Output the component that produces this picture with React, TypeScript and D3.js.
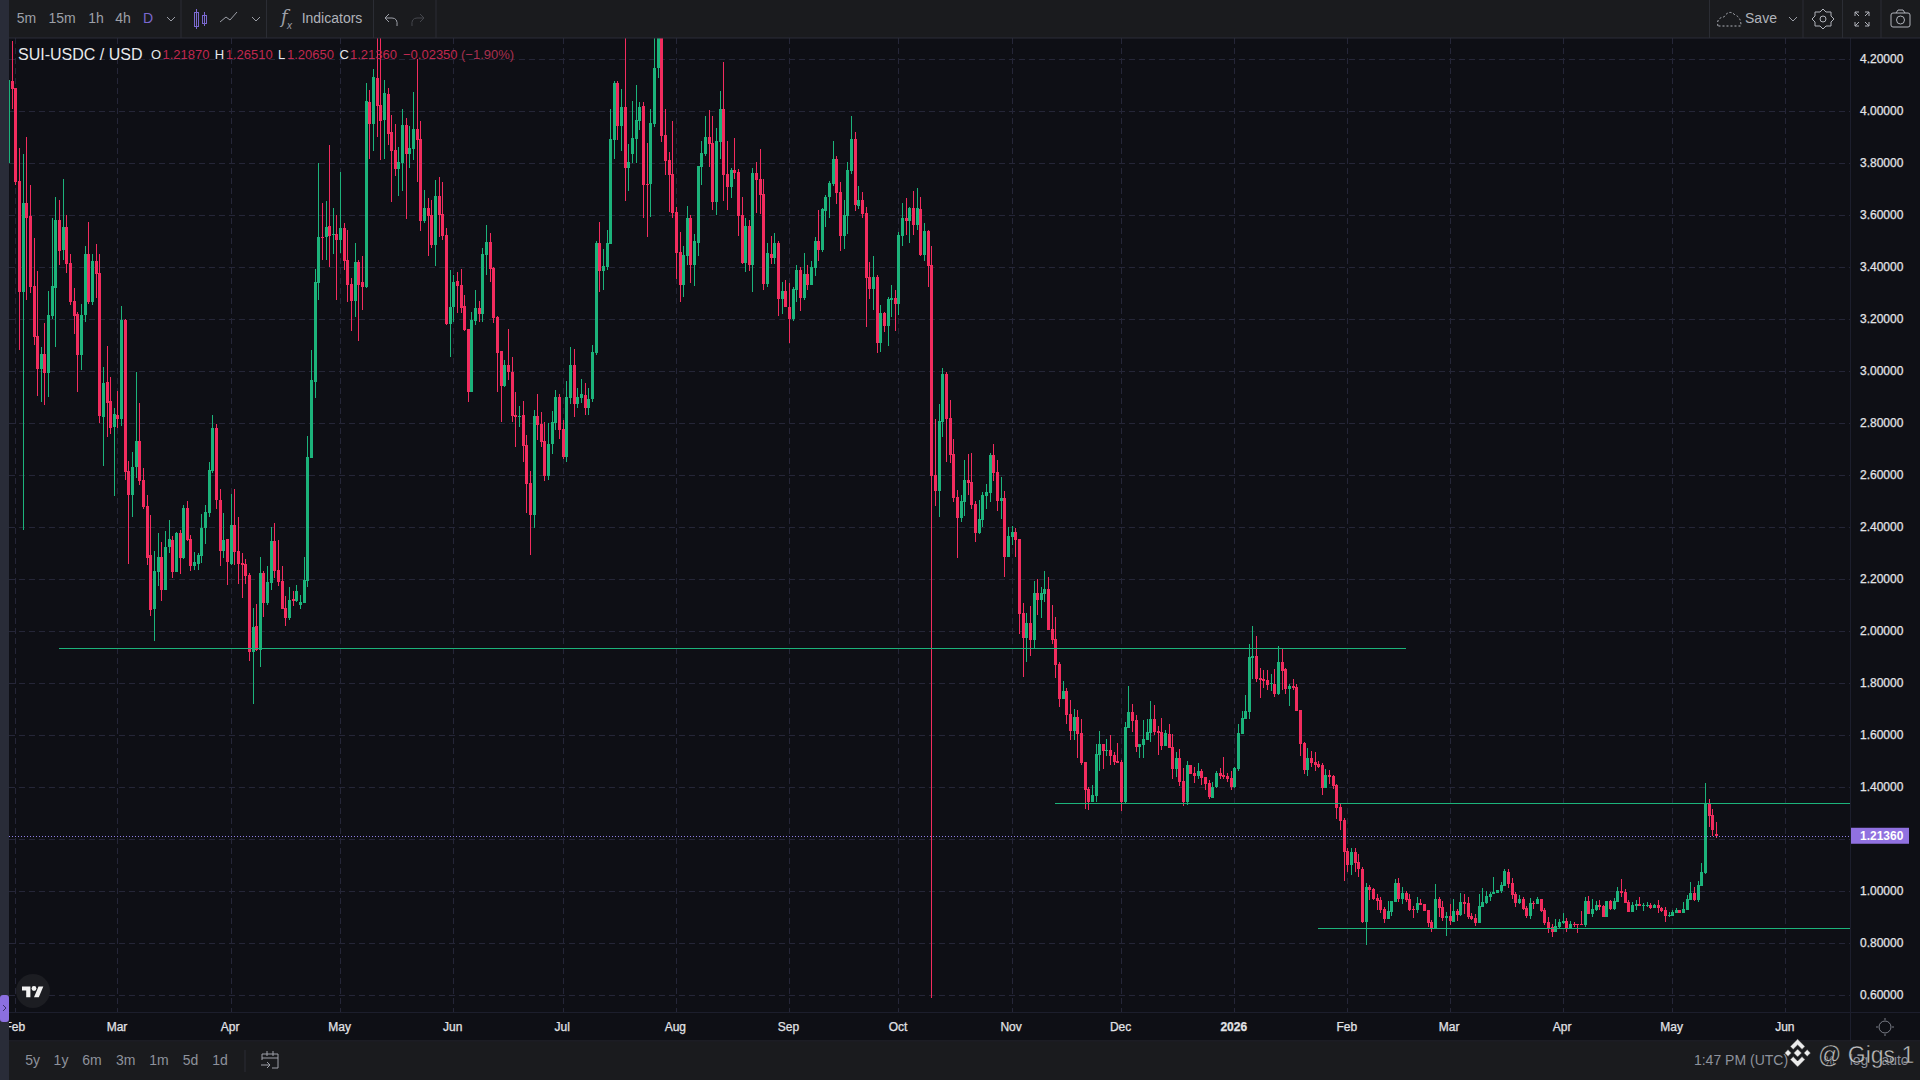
import { useEffect, useRef } from 'react'
import * as d3 from 'd3'

type Candle = [number, number, number, number] // open, high, low, close

// Daily SUI-USDC candles, one list per month
const jan25: Candle[] = [[3.8,4.13,3.7,4.12],[4.116,4.27,4.01,4.086]]
const feb25: Candle[] = [[4.088,4.088,3.716,3.729],[3.732,3.857,3.082,3.306],[3.306,3.836,2.39,3.646],[3.646,3.9,3.274,3.591],[3.597,3.716,3.3,3.325],[3.328,3.511,3.1,3.133],[3.136,3.386,2.905,3.009],[3.009,3.095,2.882,3.066],[3.066,3.184,2.87,2.995],[2.995,3.31,2.9,3.216],[3.212,3.588,3.203,3.328],[3.322,3.669,3.095,3.582],[3.582,3.659,3.409,3.464],[3.467,3.739,3.428,3.555],[3.555,3.601,3.377,3.412],[3.415,3.453,3.255,3.268],[3.27,3.319,3.143,3.212],[3.22,3.229,2.92,3.062],[3.062,3.257,3.005,3.216],[3.216,3.482,3.19,3.451],[3.451,3.573,3.26,3.268],[3.268,3.453,3.255,3.424],[3.424,3.489,3.283,3.374],[3.377,3.451,2.8,2.829],[2.825,3.018,2.637,2.954],[2.958,3.097,2.749,2.879],[2.886,2.98,2.759,2.783],[2.787,2.859,2.522,2.834]]
const mar25: Candle[] = [[2.832,2.924,2.781,2.817],[2.817,3.251,2.791,3.197],[3.197,3.203,2.582,2.614],[2.617,2.655,2.26,2.524],[2.524,2.688,2.441,2.632],[2.632,2.997,2.591,2.732],[2.732,2.878,2.563,2.579],[2.582,2.628,2.47,2.478],[2.482,2.524,2.255,2.282],[2.293,2.447,2.059,2.082],[2.086,2.309,1.963,2.232],[2.228,2.378,2.174,2.286],[2.286,2.343,2.117,2.159],[2.159,2.386,2.159,2.324],[2.324,2.428,2.301,2.355],[2.351,2.366,2.205,2.228],[2.228,2.382,2.228,2.378],[2.378,2.39,2.22,2.282],[2.282,2.486,2.278,2.474],[2.474,2.501,2.347,2.351],[2.355,2.37,2.232,2.251],[2.251,2.305,2.236,2.267],[2.259,2.301,2.236,2.293],[2.289,2.451,2.263,2.397],[2.397,2.486,2.336,2.459],[2.455,2.651,2.44,2.62],[2.617,2.832,2.609,2.782],[2.782,2.797,2.47,2.505],[2.505,2.547,2.251,2.309],[2.309,2.455,2.282,2.351],[2.355,2.355,2.178,2.267]]
const apr25: Candle[] = [[2.259,2.528,2.255,2.409],[2.409,2.547,2.255,2.305],[2.309,2.44,2.182,2.259],[2.263,2.301,2.128,2.255],[2.259,2.278,2.182,2.213],[2.217,2.224,1.886,1.92],[1.92,2.09,1.72,2.017],[2.02,2.105,1.924,1.928],[1.928,2.286,1.863,2.224],[2.224,2.232,2.055,2.109],[2.109,2.251,2.101,2.19],[2.186,2.401,2.159,2.347],[2.347,2.417,2.205,2.232],[2.236,2.351,2.174,2.19],[2.193,2.251,2.086,2.086],[2.09,2.136,2.02,2.051],[2.051,2.17,2.043,2.12],[2.124,2.155,2.097,2.117],[2.117,2.178,2.113,2.155],[2.101,2.14,2.086,2.113],[2.109,2.286,2.109,2.197],[2.193,2.751,2.17,2.67],[2.667,3.082,2.667,2.967],[2.96,3.392,2.897,3.342],[3.339,3.803,3.274,3.516],[3.516,3.646,3.43,3.513],[3.516,3.655,3.428,3.555],[3.559,3.869,3.4,3.52],[3.524,3.63,3.451,3.528],[3.528,3.601,3.274,3.505]]
const may25: Candle[] = [[3.505,3.766,3.456,3.551],[3.551,3.569,3.39,3.424],[3.428,3.543,3.267,3.332],[3.336,3.357,3.155,3.27],[3.27,3.492,3.21,3.42],[3.42,3.428,3.118,3.332],[3.343,3.443,3.235,3.324],[3.324,4.107,3.319,4.039],[4.035,4.082,3.816,3.951],[3.951,4.162,3.847,4.132],[4.128,4.32,3.902,4.02],[4.024,4.32,3.812,3.962],[3.966,4.12,3.816,4.07],[4.066,4.088,3.87,3.912],[3.92,3.986,3.651,3.847],[3.851,3.953,3.751,3.778],[3.778,3.864,3.674,3.805],[3.801,4.009,3.693,3.947],[3.947,3.973,3.586,3.836],[3.836,3.943,3.782,3.859],[3.855,4.074,3.812,3.932],[3.932,4.203,3.729,3.889],[3.893,3.962,3.539,3.578],[3.578,3.697,3.569,3.628],[3.628,3.666,3.443,3.597],[3.601,3.659,3.473,3.486],[3.486,3.735,3.405,3.674],[3.674,3.747,3.518,3.601],[3.605,3.728,3.505,3.52],[3.524,3.552,3.178,3.182],[3.182,3.39,3.056,3.247]]
const jun25: Candle[] = [[3.247,3.37,3.19,3.343],[3.347,3.383,3.223,3.328],[3.332,3.392,3.223,3.243],[3.25,3.293,3.155,3.159],[3.163,3.163,2.883,2.92],[2.92,3.229,2.92,3.197],[3.193,3.312,3.18,3.243],[3.243,3.27,3.19,3.22],[3.22,3.475,3.19,3.451],[3.447,3.562,3.37,3.497],[3.497,3.533,3.344,3.393],[3.397,3.4,3.184,3.205],[3.209,3.212,2.92,3.07],[3.078,3.08,2.806,2.945],[2.945,3.043,2.94,3.024],[3.024,3.161,2.966,2.996],[2.996,3.056,2.804,2.828],[2.832,2.922,2.71,2.824],[2.824,2.867,2.787,2.83],[2.832,2.886,2.652,2.713],[2.717,2.755,2.456,2.567],[2.57,2.617,2.293,2.447],[2.447,2.851,2.399,2.828],[2.828,2.913,2.736,2.793],[2.797,2.842,2.71,2.728],[2.732,2.805,2.578,2.597],[2.597,2.8,2.582,2.72],[2.72,2.848,2.682,2.805],[2.801,2.93,2.774,2.901],[2.901,2.913,2.74,2.774]]
const jul25: Candle[] = [[2.778,2.813,2.663,2.67],[2.67,2.963,2.652,2.901],[2.897,3.092,2.874,3.024],[3.024,3.086,2.824,2.874],[2.874,2.936,2.859,2.901],[2.897,2.97,2.877,2.913],[2.909,2.955,2.832,2.859],[2.859,2.936,2.832,2.893],[2.893,3.1,2.883,3.074],[3.071,3.501,3.062,3.492],[3.492,3.575,3.306,3.387],[3.387,3.47,3.312,3.405],[3.401,3.543,3.39,3.492],[3.488,4.007,3.488,3.893],[3.889,4.116,3.816,4.109],[4.109,4.115,3.889,3.943],[3.943,4.084,3.847,4.016],[4.016,4.3,3.655,3.782],[3.782,3.874,3.693,3.805],[3.835,4.039,3.803,3.897],[3.893,4.101,3.803,3.966],[3.962,4.037,3.928,4.016],[4.02,4.037,3.591,3.716],[3.72,3.877,3.518,3.716],[3.72,4.007,3.594,3.955],[3.951,4.3,3.938,4.166],[4.166,4.33,4.128,4.33],[4.33,4.35,3.883,3.905],[3.909,4.007,3.755,3.809],[3.813,3.845,3.614,3.755],[3.759,3.962,3.591,3.609]]
const aug25: Candle[] = [[3.613,3.633,3.355,3.455],[3.459,3.537,3.268,3.332],[3.332,3.482,3.284,3.447],[3.443,3.636,3.409,3.59],[3.59,3.601,3.341,3.409],[3.409,3.528,3.328,3.501],[3.493,3.79,3.443,3.789],[3.785,3.886,3.716,3.839],[3.835,3.982,3.828,3.901],[3.901,4.005,3.787,3.874],[3.878,3.982,3.62,3.651],[3.651,3.936,3.601,3.886],[3.882,4.078,3.816,4.009],[4.009,4.189,3.655,3.755],[3.759,3.886,3.62,3.709],[3.709,3.782,3.666,3.774],[3.774,3.897,3.739,3.762],[3.766,3.777,3.52,3.597],[3.601,3.67,3.412,3.416],[3.416,3.589,3.382,3.559],[3.559,3.582,3.386,3.409],[3.409,3.782,3.305,3.762],[3.762,3.805,3.609,3.735],[3.739,3.855,3.605,3.678],[3.682,3.739,3.312,3.336],[3.336,3.493,3.324,3.455],[3.451,3.52,3.412,3.435],[3.435,3.532,3.412,3.493],[3.493,3.501,3.212,3.278],[3.278,3.343,3.22,3.309],[3.309,3.351,3.247,3.247]]
const sep25: Candle[] = [[3.247,3.339,3.109,3.201],[3.201,3.324,3.193,3.316],[3.312,3.409,3.266,3.389],[3.389,3.401,3.232,3.282],[3.282,3.455,3.274,3.374],[3.374,3.409,3.312,3.332],[3.332,3.424,3.332,3.401],[3.397,3.516,3.366,3.501],[3.501,3.62,3.424,3.466],[3.466,3.628,3.459,3.624],[3.616,3.678,3.555,3.67],[3.67,3.732,3.589,3.724],[3.72,3.886,3.712,3.816],[3.816,3.828,3.643,3.686],[3.69,3.727,3.462,3.52],[3.52,3.659,3.47,3.601],[3.597,3.805,3.528,3.774],[3.77,3.982,3.759,3.893],[3.893,3.92,3.616,3.639],[3.635,3.712,3.624,3.659],[3.659,3.689,3.589,3.605],[3.609,3.632,3.17,3.359],[3.363,3.42,3.278,3.316],[3.316,3.443,3.236,3.362],[3.362,3.37,3.07,3.109],[3.109,3.255,3.074,3.224],[3.224,3.229,3.151,3.174],[3.174,3.286,3.097,3.278],[3.274,3.332,3.209,3.282],[3.282,3.312,3.155,3.259]]
const oct25: Candle[] = [[3.259,3.536,3.216,3.524],[3.52,3.647,3.482,3.59],[3.59,3.666,3.524,3.578],[3.578,3.632,3.493,3.628],[3.628,3.693,3.524,3.562],[3.562,3.705,3.543,3.628],[3.624,3.67,3.443,3.447],[3.447,3.57,3.424,3.539],[3.539,3.543,3.324,3.405],[3.409,3.482,0.59,2.598],[2.601,2.815,2.483,2.54],[2.54,2.874,2.441,2.809],[2.805,3.013,2.749,2.99],[2.99,2.999,2.652,2.816],[2.82,2.89,2.649,2.678],[2.682,2.738,2.499,2.513],[2.516,2.543,2.283,2.436],[2.436,2.524,2.42,2.501],[2.497,2.659,2.443,2.582],[2.582,2.682,2.524,2.57],[2.574,2.685,2.47,2.486],[2.49,2.501,2.343,2.378],[2.378,2.505,2.374,2.432],[2.428,2.536,2.401,2.524],[2.52,2.565,2.47,2.536],[2.532,2.686,2.497,2.678],[2.678,2.72,2.578,2.609],[2.613,2.659,2.463,2.501],[2.501,2.593,2.432,2.513],[2.513,2.54,2.209,2.286],[2.286,2.401,2.286,2.366]]
const nov25: Candle[] = [[2.362,2.405,2.332,2.382],[2.382,2.397,2.286,2.351],[2.355,2.355,1.99,2.066],[2.07,2.109,1.824,1.974],[1.974,2.07,1.882,2.032],[2.032,2.097,1.905,1.966],[1.966,2.193,1.936,2.147],[2.147,2.201,2.063,2.12],[2.12,2.17,2.051,2.147],[2.143,2.232,2.113,2.163],[2.163,2.209,2.005,2.005],[2.009,2.101,1.951,1.967],[1.97,2.055,1.82,1.87],[1.874,1.882,1.709,1.74],[1.74,1.809,1.74,1.77],[1.77,1.782,1.644,1.678],[1.682,1.736,1.582,1.617],[1.617,1.701,1.582,1.67],[1.67,1.697,1.513,1.605],[1.609,1.663,1.486,1.494],[1.498,1.498,1.317,1.39],[1.394,1.401,1.313,1.343],[1.343,1.409,1.343,1.37],[1.366,1.566,1.343,1.528],[1.524,1.617,1.463,1.566],[1.566,1.566,1.47,1.54],[1.54,1.586,1.52,1.544],[1.544,1.601,1.486,1.52],[1.524,1.536,1.486,1.497],[1.501,1.57,1.494,1.494]]
const dec25: Candle[] = [[1.497,1.505,1.309,1.343],[1.343,1.651,1.34,1.632],[1.628,1.79,1.628,1.69],[1.69,1.72,1.613,1.655],[1.659,1.678,1.536,1.555],[1.555,1.567,1.513,1.567],[1.563,1.659,1.513,1.586],[1.582,1.663,1.582,1.613],[1.609,1.732,1.574,1.663],[1.663,1.717,1.601,1.613],[1.617,1.636,1.524,1.609],[1.613,1.667,1.544,1.559],[1.559,1.62,1.559,1.609],[1.605,1.644,1.551,1.551],[1.555,1.605,1.432,1.47],[1.47,1.536,1.44,1.513],[1.513,1.547,1.405,1.42],[1.424,1.474,1.328,1.343],[1.343,1.501,1.332,1.486],[1.486,1.486,1.451,1.451],[1.455,1.478,1.416,1.443],[1.443,1.494,1.432,1.463],[1.463,1.47,1.409,1.436],[1.44,1.44,1.39,1.413],[1.417,1.428,1.355,1.363],[1.359,1.42,1.359,1.401],[1.401,1.463,1.397,1.455],[1.455,1.474,1.432,1.443],[1.447,1.516,1.432,1.44],[1.443,1.455,1.42,1.432],[1.436,1.463,1.39,1.4]]
const jan26: Candle[] = [[1.4,1.478,1.397,1.474],[1.47,1.644,1.463,1.609],[1.605,1.693,1.605,1.667],[1.663,1.755,1.663,1.693],[1.69,1.951,1.663,1.901],[1.897,2.02,1.817,1.905],[1.905,1.982,1.805,1.817],[1.82,1.859,1.743,1.813],[1.817,1.851,1.782,1.809],[1.813,1.851,1.774,1.794],[1.797,1.836,1.77,1.8],[1.797,1.855,1.747,1.759],[1.759,1.943,1.755,1.882],[1.882,1.936,1.774,1.847],[1.855,1.859,1.759,1.778],[1.778,1.797,1.713,1.79],[1.79,1.817,1.774,1.782],[1.786,1.797,1.694,1.694],[1.698,1.698,1.52,1.566],[1.57,1.574,1.451,1.466],[1.466,1.551,1.444,1.513],[1.513,1.54,1.478,1.494],[1.498,1.536,1.463,1.486],[1.49,1.501,1.474,1.478],[1.486,1.494,1.37,1.397],[1.397,1.47,1.397,1.447],[1.447,1.466,1.413,1.44],[1.443,1.447,1.393,1.405],[1.409,1.413,1.278,1.32],[1.324,1.34,1.236,1.27],[1.274,1.281,1.04,1.151]]
const feb26: Candle[] = [[1.155,1.165,1.075,1.101],[1.101,1.165,1.063,1.151],[1.151,1.165,1.075,1.109],[1.113,1.143,1.056,1.086],[1.086,1.093,0.878,0.882],[0.882,1.032,0.793,1.016],[1.016,1.024,0.966,1.005],[1.009,1.013,0.966,0.97],[0.974,0.99,0.928,0.963],[0.966,0.978,0.916,0.928],[0.932,0.94,0.878,0.893],[0.893,0.963,0.893,0.924],[0.92,0.963,0.905,0.963],[0.959,1.047,0.959,1.032],[1.032,1.051,0.959,0.97],[0.97,1.016,0.951,0.993],[0.993,1.0,0.959,0.966],[0.97,0.99,0.924,0.928],[0.932,0.943,0.897,0.928],[0.928,0.978,0.916,0.955],[0.955,0.97,0.947,0.947],[0.951,0.951,0.924,0.924],[0.928,0.928,0.863,0.878],[0.882,0.89,0.843,0.859],[0.859,1.028,0.859,0.97],[0.97,0.978,0.901,0.936],[0.94,0.963,0.886,0.897],[0.897,0.92,0.828,0.905]]
const mar26: Candle[] = [[0.905,0.951,0.87,0.886],[0.882,0.97,0.882,0.924],[0.924,0.932,0.886,0.909],[0.909,0.993,0.905,0.959],[0.959,0.99,0.913,0.951],[0.955,0.978,0.893,0.901],[0.905,0.916,0.889,0.893],[0.897,0.913,0.866,0.878],[0.878,0.99,0.878,0.943],[0.94,1.013,0.94,0.959],[0.955,1.0,0.951,0.982],[0.978,0.997,0.963,0.99],[0.99,1.055,0.99,0.997],[0.993,1.005,0.993,1.005],[1.001,1.036,0.993,1.024],[1.02,1.086,1.02,1.08],[1.076,1.086,1.013,1.028],[1.032,1.051,0.97,0.986],[0.99,0.997,0.939,0.955],[0.955,0.986,0.951,0.97],[0.97,0.978,0.928,0.932],[0.936,0.943,0.897,0.905],[0.905,0.974,0.893,0.955],[0.955,0.963,0.932,0.951],[0.951,0.978,0.951,0.97],[0.97,0.97,0.92,0.924],[0.928,0.936,0.87,0.878],[0.882,0.901,0.84,0.859],[0.863,0.874,0.824,0.843],[0.843,0.893,0.843,0.866],[0.863,0.893,0.859,0.882]]
const apr26: Candle[] = [[0.878,0.916,0.874,0.886],[0.886,0.897,0.843,0.859],[0.859,0.886,0.855,0.874],[0.874,0.882,0.863,0.87],[0.874,0.874,0.84,0.87],[0.874,0.924,0.87,0.87],[0.87,0.978,0.863,0.963],[0.963,0.982,0.913,0.913],[0.913,0.97,0.901,0.932],[0.928,0.963,0.924,0.947],[0.947,0.966,0.928,0.94],[0.943,0.947,0.901,0.901],[0.901,0.963,0.901,0.963],[0.963,0.966,0.928,0.932],[0.932,0.974,0.928,0.963],[0.959,1.016,0.959,1.001],[1.001,1.047,0.978,0.993],[0.997,1.009,0.955,0.955],[0.959,0.966,0.92,0.92],[0.92,0.959,0.92,0.947],[0.943,0.966,0.928,0.951],[0.951,0.978,0.943,0.943],[0.943,0.955,0.924,0.947],[0.945,0.959,0.94,0.949],[0.947,0.955,0.932,0.936],[0.936,0.951,0.936,0.947],[0.947,0.966,0.916,0.936],[0.936,0.94,0.92,0.924],[0.928,0.94,0.882,0.905],[0.905,0.92,0.901,0.909]]
const may26: Candle[] = [[0.905,0.928,0.905,0.92],[0.916,0.936,0.916,0.928],[0.928,0.928,0.916,0.916],[0.916,0.959,0.916,0.932],[0.928,0.986,0.928,0.97],[0.966,1.036,0.966,0.993],[0.993,1.016,0.963,0.966],[0.966,1.04,0.959,1.024],[1.02,1.109,1.02,1.074],[1.07,1.416,1.066,1.338],[1.338,1.355,1.247,1.29],[1.294,1.316,1.213,1.2371],[1.2187,1.2651,1.2065,1.2136]]
const candleMonths = [jan25, feb25, mar25, apr25, may25, jun25, jul25, aug25, sep25, oct25, nov25, dec25, jan26, feb26, mar26, apr26, may26]
const firstCandleDay = '2025-01-30'

const priceTicks = [0.6, 0.8, 1.0, 1.4, 1.6, 1.8, 2.0, 2.2, 2.4, 2.6, 2.8, 3.0, 3.2, 3.4, 3.6, 3.8, 4.0, 4.2]
const gridPrices = [0.6, 0.8, 1.0, 1.2, 1.4, 1.6, 1.8, 2.0, 2.2, 2.4, 2.6, 2.8, 3.0, 3.2, 3.4, 3.6, 3.8, 4.0, 4.2]
const monthTicks = ['2025-02-01', '2025-03-01', '2025-04-01', '2025-05-01', '2025-06-01', '2025-07-01', '2025-08-01', '2025-09-01', '2025-10-01', '2025-11-01', '2025-12-01', '2026-01-01', '2026-02-01', '2026-03-01', '2026-04-01', '2026-05-01', '2026-06-01']
const monthLabels = ['Feb', 'Mar', 'Apr', 'May', 'Jun', 'Jul', 'Aug', 'Sep', 'Oct', 'Nov', 'Dec', '2026', 'Feb', 'Mar', 'Apr', 'May', 'Jun']

// support / resistance levels the author drew
const levelPrices = [1.935, 1.3385, 0.858]
const levelStarts = ['2025-02-13', '2025-11-13', '2026-01-24']
const levelEnds = ['2026-02-17', '2026-06-19', '2026-06-19']
const lastPrice = 1.2136

const topButtons = ['5m', '15m', '1h', '4h']
const topButtonX = [26.5, 62, 96, 123]
const rangeButtons = ['5y', '1y', '6m', '3m', '1m', '5d', '1d']
const rangeButtonX = [32.6, 61, 92, 125.7, 159, 190.6, 220]

const GREEN = '#1cb37b'
const RED = '#f22c5e'
const FONT = '"Liberation Sans", Arial, sans-serif'
const day = (s: string) => new Date(s + 'T00:00:00Z')

function Chevron({ x, y }: { x: number; y: number }) {
  return <path d={`M${x - 4} ${y - 2}L${x} ${y + 2}L${x + 4} ${y - 2}`} fill="none" stroke="#9a9da5" strokeWidth={1} />
}

export default function App() {
  const chartRef = useRef<SVGGElement>(null)

  useEffect(() => {
    if (!chartRef.current) return
    const g = d3.select(chartRef.current)
    g.selectAll('*').remove()

    const x = d3.scaleUtc().domain([day('2025-02-01'), day('2026-06-01')]).range([15.3, 1785.3])
    const y = d3.scaleLinear().domain([4.2, 0.6]).range([59.3, 995.3])

    const candles = candleMonths.flat().map((c, i) => ({
      date: d3.utcDay.offset(day(firstCandleDay), i),
      open: c[0], high: c[1], low: c[2], close: c[3],
    }))

    // grid
    const grid = g.append('g').attr('clip-path', 'url(#plot)').attr('stroke', '#252638').attr('shape-rendering', 'crispEdges')
    grid.selectAll('.h').data(gridPrices).enter().append('line')
      .attr('x1', 9).attr('x2', 1850)
      .attr('y1', d => Math.round(y(d)) + 0.5).attr('y2', d => Math.round(y(d)) + 0.5)
      .attr('stroke-dasharray', '6 4')
    grid.selectAll('.v').data(monthTicks).enter().append('line')
      .attr('y1', 38).attr('y2', 1012)
      .attr('x1', d => Math.round(x(day(d))) + 0.5).attr('x2', d => Math.round(x(day(d))) + 0.5)
      .attr('stroke-dasharray', '6 4')

    // candles
    const marks = g.append('g').attr('clip-path', 'url(#plot)').attr('shape-rendering', 'crispEdges')
    const color = (d: { open: number; close: number }) => (d.close >= d.open ? GREEN : RED)
    marks.selectAll('.wick').data(candles).enter().append('rect')
      .attr('x', d => Math.round(x(d.date)))
      .attr('width', 1)
      .attr('y', d => y(d.high))
      .attr('height', d => y(d.low) - y(d.high))
      .attr('fill', color)
    marks.selectAll('.body').data(candles).enter().append('rect')
      .attr('x', d => Math.round(x(d.date)) - 1)
      .attr('width', 3)
      .attr('y', d => y(Math.max(d.open, d.close)))
      .attr('height', d => Math.max(1, Math.abs(y(d.open) - y(d.close))))
      .attr('fill', color)

    // drawn levels
    levelPrices.forEach((p, i) => {
      marks.append('line')
        .attr('x1', x(day(levelStarts[i]))).attr('x2', x(day(levelEnds[i])))
        .attr('y1', Math.round(y(p)) + 0.5).attr('y2', Math.round(y(p)) + 0.5)
        .attr('stroke', GREEN).attr('stroke-width', 1)
    })

    // last price
    g.append('line').attr('x1', 9).attr('x2', 1850)
      .attr('y1', Math.round(y(lastPrice)) + 0.5).attr('y2', Math.round(y(lastPrice)) + 0.5)
      .attr('stroke', '#8f7fe6').attr('stroke-dasharray', '1 2').attr('shape-rendering', 'crispEdges')

    // axes
    const yAxis = g.append('g').attr('transform', 'translate(1860,-1)')
      .call(d3.axisRight(y).tickValues(priceTicks).tickSize(0).tickPadding(0).tickFormat(d => (+d).toFixed(5)))
    yAxis.select('.domain').remove()
    yAxis.selectAll('text').style('font-size', '12px').style('font-family', FONT).style('fill', '#e2e3e7').style('stroke', '#e2e3e7').style('stroke-width', '0.25')

    const xAxis = g.append('g').attr('transform', 'translate(-1,1013)')
      .call(d3.axisBottom(x).tickValues(monthTicks.map(day)).tickSize(0).tickPadding(9).tickFormat((_, i) => monthLabels[i]))
    xAxis.select('.domain').remove()
    xAxis.selectAll('text').style('font-size', '12px').style('font-family', FONT).style('font-weight', (_, i) => (monthLabels[i] === '2026' ? '700' : '400')).style('fill', '#e2e3e7').style('stroke', '#e2e3e7').style('stroke-width', '0.25')

    const tagY = y(lastPrice)
    g.append('rect').attr('x', 1850).attr('y', tagY - 8).attr('width', 59).attr('height', 16).attr('fill', '#9071e0')
    g.append('text').attr('x', 1860).attr('y', tagY + 4.2).attr('fill', '#fff').style('font-size', '12px').style('font-family', FONT).style('font-weight', '700').text(lastPrice.toFixed(5))
  }, [])

  return (
    <div style={{ position: 'fixed', left: 0, top: 0, width: 1920, height: 1080 }}>
      <svg width={1920} height={1080} style={{ display: 'block', fontFamily: FONT }}>
        <defs>
          <clipPath id="plot"><rect x={9} y={38} width={1841} height={975} /></clipPath>
        </defs>
        <rect width={1920} height={1080} fill="#0e0f15" />
        <g ref={chartRef} />

        {/* chart borders */}
        <line x1={1850.5} x2={1850.5} y1={38} y2={1041} stroke="#1c1e2c" />
        <line x1={9} x2={1920} y1={1012.5} y2={1012.5} stroke="#1c1e2c" />

        {/* legend */}
        <g fontSize={13} dominantBaseline="middle">
          <text x={18} y={55.5} fontSize={16} fill="#e8e9ec">SUI-USDC / USD</text>
          <text x={151} y={55.5} fill="#e8e9ec">O</text>
          <text x={162.5} y={55.5} fill="#c0284f">1.21870</text>
          <text x={214.7} y={55.5} fill="#e8e9ec">H</text>
          <text x={225.7} y={55.5} fill="#c0284f">1.26510</text>
          <text x={278} y={55.5} fill="#e8e9ec">L</text>
          <text x={287} y={55.5} fill="#c0284f">1.20650</text>
          <text x={339.6} y={55.5} fill="#e8e9ec">C</text>
          <text x={350} y={55.5} fill="#c0284f">1.21360</text>
          <text x={403} y={55.5} fill="#c0284f">−0.02350</text>
          <text x={461} y={55.5} fill="#a8304f">(−1.90%)</text>
        </g>

        {/* top toolbar */}
        <rect width={1920} height={38} fill="#1a1b1e" />
        <line x1={0} x2={1920} y1={38} y2={38} stroke="#2b2d38" />
        <g stroke="#2b2d34">
          {[181, 266.5, 373.5, 436, 1709.5, 1803, 1842.5, 1881].map(sx => <line key={sx} x1={sx} x2={sx} y1={0} y2={38} />)}
        </g>
        <g fontSize={14} fill="#9da0a8" textAnchor="middle" dominantBaseline="middle">
          {topButtons.map((b, i) => <text key={b} x={topButtonX[i]} y={19.5}>{b}</text>)}
          <text x={148} y={19.5} fill="#7a68cf">D</text>
          <text x={332} y={19.5} fill="#b0b3ba">Indicators</text>
          <text x={1761} y={19.5} fill="#b0b3ba">Save</text>
        </g>
        <Chevron x={171} y={19} />
        <Chevron x={256} y={19} />
        <Chevron x={1793} y={19} />
        <g fill="none" stroke="#7a68cf" strokeWidth={1}>
          <rect x={194.5} y={12.5} width={4} height={14} /><line x1={196.5} x2={196.5} y1={9} y2={29} />
          <rect x={202.5} y={15.5} width={4} height={8} /><line x1={204.5} x2={204.5} y1={12} y2={26} />
        </g>
        <path d="M220 22L226 17L230 20L237 12" fill="none" stroke="#9da0a8" />
        <g fill="#9da0a8" fontStyle="italic">
          <text x={281} y={23} fontSize={18} fontFamily="'DejaVu Serif', serif">f</text>
          <text x={287} y={29} fontSize={10}>x</text>
        </g>
        <path d="M385 18L389 14M385 18L389 22M385 18H392Q398 18 397 26" fill="none" stroke="#9da0a8" />
        <path d="M424 18L420 14M424 18L420 22M424 18H417Q411 18 412 26" fill="none" stroke="#44464c" />
        <path d="M1718 26Q1716 18 1724 17Q1729 9 1735 15Q1741 17 1741 26Z" fill="none" stroke="#b0b3ba" strokeDasharray="2 2" />
        <path d="M1823 9L1826 12L1831 12L1831 16L1834 19L1831 22L1831 26L1826 26L1823 29L1820 26L1815 26L1815 22L1812 19L1815 16L1815 12L1820 12Z" fill="none" stroke="#b0b3ba" />
        <circle cx={1823} cy={19} r={3} fill="none" stroke="#b0b3ba" />
        <g fill="none" stroke="#b0b3ba">
          <path d="M1855 16V12H1859M1869 16V12H1865M1855 22V26H1859M1869 22V26H1865M1855 12L1859 16M1869 12L1865 16M1855 26L1859 22M1869 26L1865 22" />
          <rect x={1891} y={13} width={19} height={14} rx={2} />
          <circle cx={1900.5} cy={20} r={4} />
          <path d="M1896 13L1898 10H1903L1905 13" />
        </g>

        {/* bottom toolbar */}
        <line x1={9} x2={1920} y1={1041} y2={1041} stroke="#2b2d34" />
        <rect y={1041.5} width={1920} height={39} fill="#1a1b1e" />
        <g fontSize={14} fill="#8e929c" textAnchor="middle" dominantBaseline="middle">
          {rangeButtons.map((b, i) => <text key={b} x={rangeButtonX[i]} y={1061.5}>{b}</text>)}
          <text x={1741} y={1061.5} fontSize={14}>1:47 PM (UTC)</text>
          <text x={1829} y={1061.5} fontSize={12}>%</text>
          <text x={1859} y={1061.5}>log</text>
          <text x={1895} y={1061.5}>auto</text>
        </g>
        <line x1={245} x2={245} y1={1050} y2={1072} stroke="#2b2d34" />
        <g fill="none" stroke="#9da0a8">
          <path d="M262 1060V1054H278V1068H272M262 1058H278M267 1051V1056M273 1051V1056" />
          <path d="M261 1065H270M267 1062L270 1065L267 1068" />
        </g>
        <circle cx={1885} cy={1027} r={6} fill="none" stroke="#7b7e88" />
        <g stroke="#7b7e88">
          <line x1={1885} x2={1885} y1={1018} y2={1020} /><line x1={1885} x2={1885} y1={1034} y2={1036} />
          <line x1={1876} x2={1878} y1={1027} y2={1027} /><line x1={1892} x2={1894} y1={1027} y2={1027} />
        </g>

        {/* tradingview badge */}
        <circle cx={33} cy={991} r={17} fill="#1c1d22" />
        <g transform="translate(22,984) scale(0.6)" fill="#f2f2f2">
          <path d="M14 22H7V11H0V4h14v18zM28 22h-8l7.5-18h8L28 22z" /><circle cx={20} cy={7.5} r={4} />
        </g>

        {/* left strip and its tab */}
        <rect x={0} y={0} width={9} height={1080} fill="#292c38" />
        <rect x={0} y={995} width={9} height={27} rx={3} fill="#8b6fe0" />
        <path d="M3 1005L6 1008L3 1011" fill="none" stroke="#3a2f6a" />

        {/* watermark */}
        <g fill="#ececec" stroke="#222" strokeWidth={0.5}>
          <path d="M1797.6 1039L1805 1046.4L1802 1049.4L1797.6 1045L1793.2 1049.4L1790.2 1046.4Z" />
          <path d="M1784.6 1053L1788 1049.6L1791.4 1053L1788 1056.4Z" />
          <path d="M1803.8 1053L1807.2 1049.6L1810.6 1053L1807.2 1056.4Z" />
          <path d="M1797.6 1049L1801.6 1053L1797.6 1057L1793.6 1053Z" />
          <path d="M1797.6 1067L1805 1059.6L1802 1056.6L1797.6 1061L1793.2 1056.6L1790.2 1059.6Z" />
        </g>
        <text x={1818} y={1063} fontSize={23} fill="#dcdcdc" fillOpacity={0.85} stroke="#111" strokeWidth={0.4}>@ Gigs 1</text>
      </svg>
    </div>
  )
}
